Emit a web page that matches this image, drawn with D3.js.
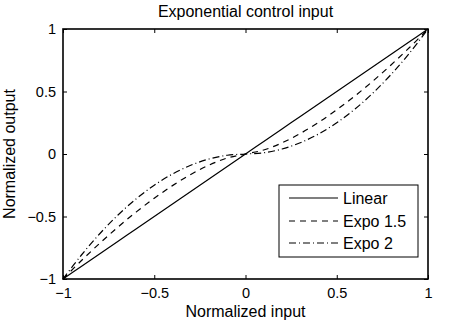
<!DOCTYPE html>
<html><head><meta charset="utf-8">
<script src="https://cdn.jsdelivr.net/npm/d3@7"></script>
<style>body{margin:0;background:#fff}svg{display:block}text{font-family:"Liberation Sans",Arial,Helvetica,sans-serif;fill:#000}</style>
</head><body>
<script>
const xValues = [-1,-0.9,-0.8,-0.7,-0.6,-0.5,-0.4,-0.3,-0.2,-0.1,0,0.1,0.2,0.3,0.4,0.5,0.6,0.7,0.8,0.9,1];
const linear = [-1,-0.9,-0.8,-0.7,-0.6,-0.5,-0.4,-0.3,-0.2,-0.1,0,0.1,0.2,0.3,0.4,0.5,0.6,0.7,0.8,0.9,1];
const expo15 = [-1,-0.854,-0.716,-0.586,-0.465,-0.354,-0.253,-0.164,-0.089,-0.032,0,0.032,0.089,0.164,0.253,0.354,0.465,0.586,0.716,0.854,1];
const expo2 = [-1,-0.81,-0.64,-0.49,-0.36,-0.25,-0.16,-0.09,-0.04,-0.01,0,0.01,0.04,0.09,0.16,0.25,0.36,0.49,0.64,0.81,1];
const seriesNames = ["Linear","Expo 1.5","Expo 2"];
const tickValues = [-1,-0.5,0,0.5,1];
const tickLabels = ["\u22121","\u22120.5","0","0.5","1"];
const titleText = "Exponential control input";
const xLabel = "Normalized input";
const yLabel = "Normalized output";

const W = 474, H = 325;
const m = {l:63, r:46, t:29, b:46};
const iw = W - m.l - m.r, ih = H - m.t - m.b;
const svg = d3.select("body").append("svg").attr("width", W).attr("height", H);
const x = d3.scaleLinear().domain([-1,1]).range([m.l, m.l+iw]);
const y = d3.scaleLinear().domain([-1,1]).range([m.t+ih, m.t]);
const fmt = v => tickLabels[tickValues.indexOf(v)];
const fs = 14.5;

const series = [
  {name: seriesNames[0], vals: linear, dash: null},
  {name: seriesNames[1], vals: expo15, dash: "6,5"},
  {name: seriesNames[2], vals: expo2, dash: "7,3,1,3"}
];
const line = d3.line().x(d => x(d[0])).y(d => y(d[1])).curve(d3.curveCatmullRom);
series.forEach(s => {
  svg.append("path").datum(xValues.map((v,i) => [v, s.vals[i]]))
    .attr("d", line).attr("fill","none").attr("stroke","#000").attr("stroke-width",1.2)
    .attr("stroke-dasharray", s.dash);
});

// axes with inward ticks
const tl = 4;
const axB = svg.append("g").attr("transform",`translate(0,${m.t+ih})`)
  .call(d3.axisBottom(x).tickValues(tickValues).tickFormat(fmt).tickSizeInner(-tl).tickSizeOuter(0).tickPadding(9));
const axT = svg.append("g").attr("transform",`translate(0,${m.t})`)
  .call(d3.axisTop(x).tickValues(tickValues).tickFormat("").tickSizeInner(-tl).tickSizeOuter(0));
const axL = svg.append("g").attr("transform",`translate(${m.l},0)`)
  .call(d3.axisLeft(y).tickValues(tickValues).tickFormat(fmt).tickSizeInner(-tl).tickSizeOuter(0).tickPadding(7));
const axR = svg.append("g").attr("transform",`translate(${m.l+iw},0)`)
  .call(d3.axisRight(y).tickValues(tickValues).tickFormat("").tickSizeInner(-tl).tickSizeOuter(0));
[axB,axT,axL,axR].forEach(g => {
  g.select(".domain").remove();
  g.selectAll("line").attr("stroke","#000").attr("stroke-width",1);
  g.selectAll("text").style("font-size", fs+"px").attr("fill","#000").style("font-family",'"Liberation Sans",Arial,sans-serif');
});
svg.append("rect").attr("x",m.l).attr("y",m.t).attr("width",iw).attr("height",ih)
  .attr("fill","none").attr("stroke","#000").attr("stroke-width",1.6);

// title and labels
svg.append("text").attr("x", m.l+iw/2).attr("y", 17).attr("text-anchor","middle")
  .style("font-size","16px").text(titleText);
svg.append("text").attr("x", m.l+iw/2).attr("y", 317).attr("text-anchor","middle")
  .style("font-size","16px").text(xLabel);
svg.append("text").attr("transform",`translate(15,${m.t+ih/2}) rotate(-90)`).attr("text-anchor","middle")
  .style("font-size","16px").text(yLabel);

// legend
const lg = svg.append("g");
lg.append("rect").attr("x",279).attr("y",185).attr("width",139).attr("height",72)
  .attr("fill","#fff").attr("stroke","#000").attr("stroke-width",1);
const ly = [198, 221, 243];
series.forEach((s,i) => {
  lg.append("line").attr("x1",289).attr("x2",338).attr("y1",ly[i]).attr("y2",ly[i])
    .attr("stroke","#000").attr("stroke-width",1.1).attr("stroke-dasharray", s.dash);
  lg.append("text").attr("x",343).attr("y",ly[i]).attr("dy","0.35em").style("font-size","16px").text(s.name);
});
</script>
</body></html>
